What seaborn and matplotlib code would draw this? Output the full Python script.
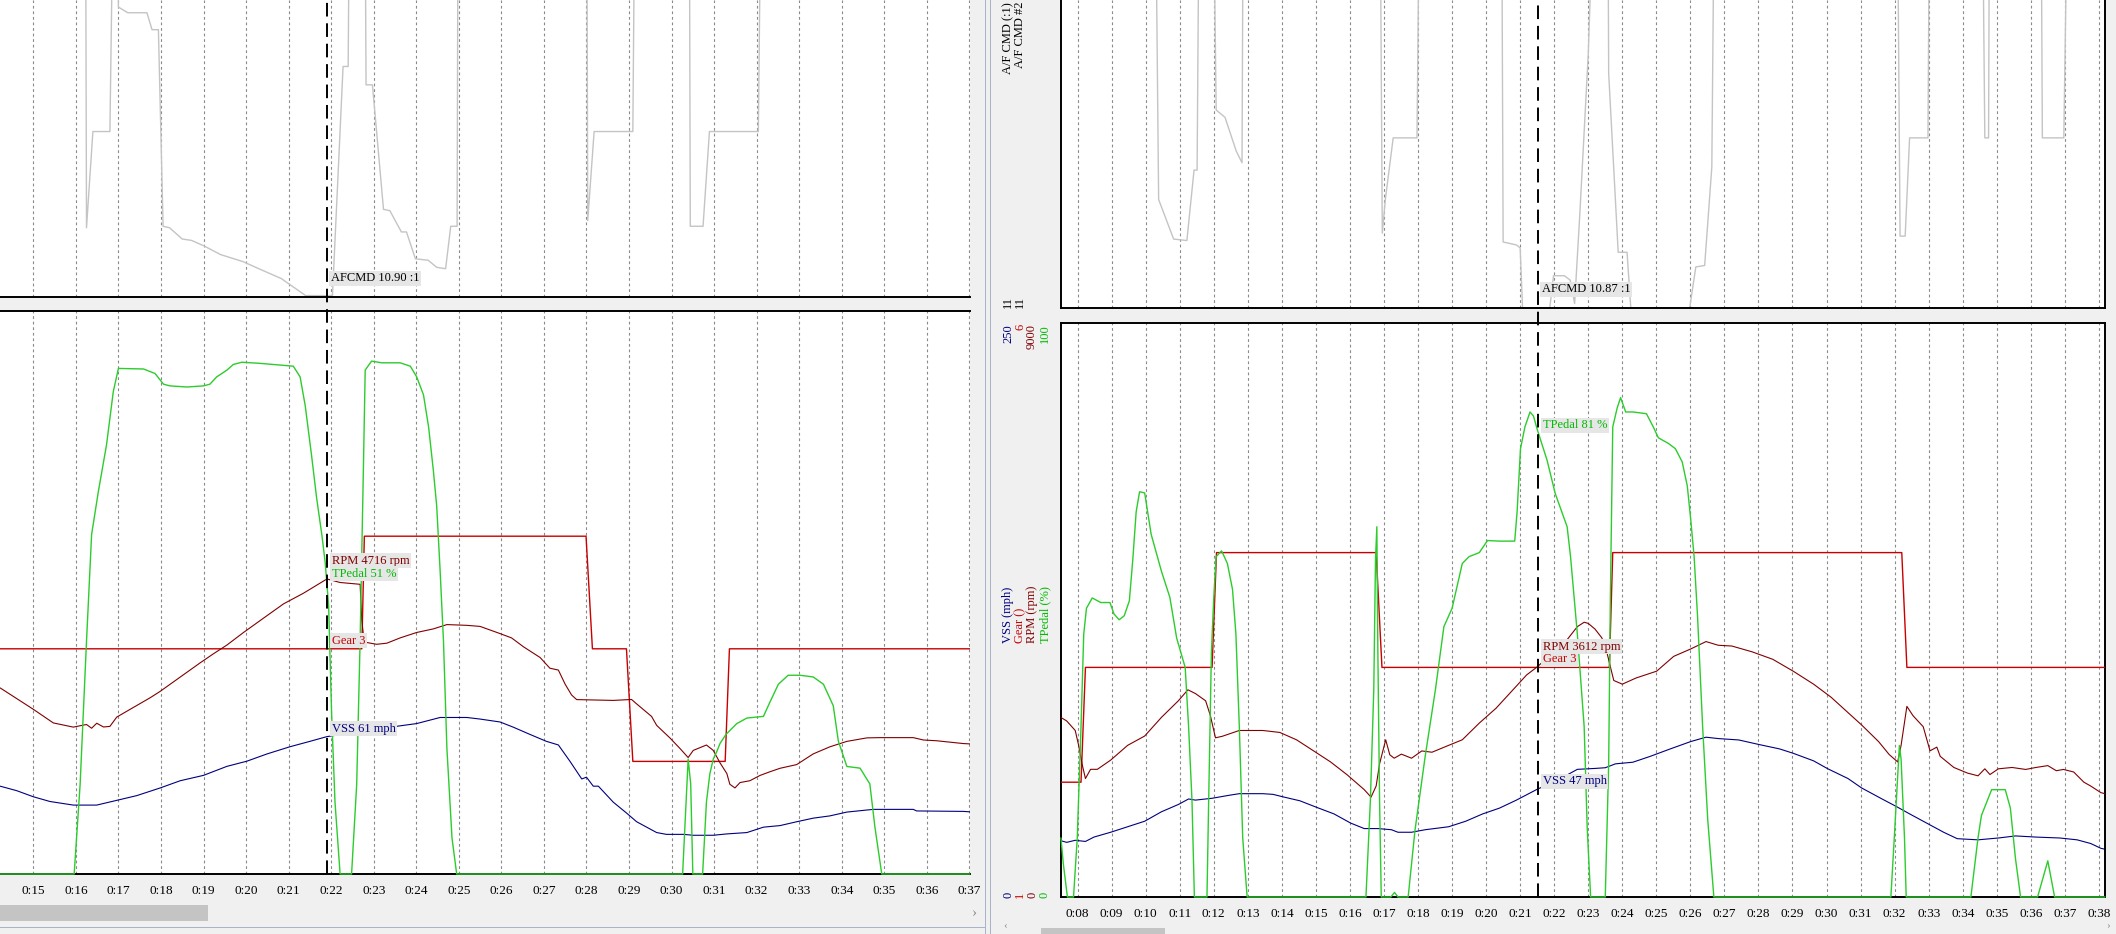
"""Data-log viewer screenshot: A/F command + VSS/Gear/RPM/TPedal, two panels."""

import matplotlib
matplotlib.use("Agg")
import matplotlib.pyplot as plt
import matplotlib.patches as patches
import matplotlib.transforms as mtransforms
from matplotlib.lines import Line2D
from matplotlib.ticker import MultipleLocator, FuncFormatter
import seaborn as sns

W, H = 2116, 934
BG = "#f0f0f0"
VSS_C = "#000080"
GEAR_C = "#c80000"
RPM_C = "#800000"
TP_C = "#2ccc2c"
AF_C = "#c4c4c4"
SEP_C = "#a8b4c8"

# ---------------- left panel data (time in s) ----------------
L_AF_T = [14.22, 16.22, 16.25, 16.40, 16.80, 16.92, 16.97, 17.00, 17.22, 17.67, 17.79, 17.94,
          18.05, 18.20, 18.50, 18.72, 19.02, 19.40, 19.93, 20.30, 20.83, 21.40, 22.03, 22.28,
          22.40, 22.45, 22.78, 22.82, 22.97, 23.23, 23.38, 23.65, 23.77, 23.98, 24.28, 24.48,
          24.69, 24.81, 24.96, 24.99, 28.00, 28.03, 28.18, 29.09, 29.16, 30.41, 30.44, 30.74,
          30.89, 32.04, 32.13, 37.02]
L_AF_V = [14.7, 14.7, 11.39, 12.07, 12.07, 14.7, 14.7, 12.95, 12.91, 12.91, 12.79, 12.79,
          11.40, 11.39, 11.31, 11.30, 11.26, 11.20, 11.15, 11.10, 11.03, 10.91, 10.91, 12.53,
          12.53, 14.7, 14.7, 12.40, 12.40, 11.52, 11.51, 11.36, 11.36, 11.17, 11.16, 11.11,
          11.10, 11.40, 11.40, 14.7, 14.7, 11.44, 12.07, 12.07, 14.7, 14.7, 11.40, 11.40,
          12.07, 12.07, 14.7, 14.7]

L_TP_T = [14.22, 15.96, 16.10, 16.25, 16.37, 16.53, 16.72, 16.88, 17.00, 17.59, 17.86, 18.06,
          18.21, 18.61, 19.00, 19.15, 19.31, 19.55, 19.70, 19.90, 20.33, 21.11, 21.27, 21.39,
          21.54, 21.66, 21.78, 21.86, 21.94, 22.01, 22.09, 22.21, 22.48, 22.60, 22.68, 22.76,
          22.80, 22.95, 23.19, 23.62, 23.86, 24.01, 24.17, 24.29, 24.40, 24.48, 24.56, 24.64,
          24.72, 24.84, 24.95, 30.26, 30.39, 30.45, 30.50, 30.73, 30.82, 30.90, 30.98, 31.06,
          31.14, 31.28, 31.53, 31.77, 32.16, 32.31, 32.51, 32.74, 33.02, 33.33, 33.57, 33.80,
          33.92, 34.12, 34.43, 34.66, 34.78, 34.94, 37.01]
L_TP_V = [0, 0, 15.9, 41.3, 60.3, 68.0, 76.2, 85.7, 89.8, 89.7, 88.9, 87.0,
          86.7, 86.5, 86.7, 87.0, 88.3, 89.5, 90.5, 90.9, 90.7, 90.2, 88.3, 83.2,
          74.3, 66.7, 60.3, 55.3, 47.7, 28.6, 12.8, 0, 0, 15.9, 41.3, 73.0,
          89.5, 91.1, 90.8, 90.8, 90.2, 88.3, 85.1, 79.4, 71.8, 65.4, 54.0, 41.3,
          22.3, 6.4, 0, 0, 20.4, 16.0, 0, 0, 12.8, 17.8, 20.4, 21.7,
          23.2, 24.8, 26.7, 27.7, 28.0, 30.5, 33.7, 35.3, 35.3, 35.0, 33.7, 29.9,
          23.6, 19.1, 18.8, 16.0, 8.3, 0, 0]

L_GEAR_T = [14.22, 22.72, 22.78, 27.99, 28.14, 28.94, 29.09, 31.26, 31.36, 37.01]
L_GEAR_V = [3, 3, 4, 4, 3, 3, 2, 2, 3, 3]

L_RPM_T = [14.22, 14.61, 15.00, 15.47, 15.94, 16.10, 16.25, 16.37, 16.49, 16.65, 16.80, 16.96,
           17.35, 17.74, 17.98, 18.45, 18.92, 19.23, 19.55, 19.94, 20.41, 20.88, 21.35, 21.90,
           22.21, 22.68, 22.72, 22.77, 22.84, 23.07, 23.31, 23.62, 24.01, 24.40, 24.72, 25.19,
           25.50, 25.97, 26.24, 26.52, 26.91, 27.14, 27.34, 27.50, 27.65, 27.77, 28.63, 29.06,
           29.18, 29.53, 29.65, 29.96, 30.20, 30.39, 30.51, 30.82, 30.98, 31.14, 31.30, 31.37,
           31.49, 31.61, 31.84, 32.08, 32.31, 32.55, 32.94, 33.33, 33.72, 34.12, 34.59, 34.90,
           35.68, 35.92, 36.23, 36.86, 37.01]
L_RPM_V = [2975, 2804, 2633, 2415, 2348, 2370, 2390, 2330, 2410, 2350, 2360, 2508,
           2662, 2815, 2919, 3147, 3375, 3519, 3660, 3861, 4090, 4318, 4489, 4716,
           4660, 4631, 4060, 3747, 3700, 3672, 3690, 3774, 3861, 3918, 3987, 3975,
           3958, 3843, 3774, 3632, 3461, 3290, 3260, 3033, 2862, 2788, 2775, 2790,
           2719, 2519, 2376, 2176, 2005, 1862, 1976, 2062, 1976, 1776, 1605, 1434,
           1376, 1462, 1491, 1576, 1634, 1690, 1749, 1920, 2033, 2120, 2176, 2180,
           2180, 2142, 2130, 2085, 2080]

L_VSS_T = [14.22, 14.61, 15.00, 15.39, 15.94, 16.49, 16.96, 17.43, 17.98, 18.45, 19.00, 19.55,
           20.02, 20.49, 21.03, 21.50, 21.90, 22.60, 23.39, 24.01, 24.56, 25.19, 25.50, 25.97,
           26.28, 26.67, 27.06, 27.34, 27.61, 27.89, 28.00, 28.16, 28.28, 28.63, 28.94, 29.18,
           29.65, 29.88, 30.28, 30.51, 30.98, 31.30, 31.77, 32.16, 32.55, 32.94, 33.33, 33.72,
           34.12, 34.74, 35.68, 35.76, 36.86, 37.01]
L_VSS_V = [39.0, 37.0, 34.3, 32.2, 30.6, 30.6, 32.7, 34.8, 38.2, 41.4, 43.8, 47.8,
           50.1, 53.3, 56.5, 58.9, 61.0, 63.0, 65.2, 66.8, 69.5, 69.5, 68.8, 67.5,
           65.2, 62.0, 58.9, 57.3, 50.1, 42.2, 43.0, 39.0, 39.0, 31.9, 27.1, 23.2,
           18.4, 17.6, 17.6, 17.2, 17.2, 17.8, 18.4, 20.8, 21.5, 23.2, 24.8, 25.8,
           27.5, 28.7, 28.7, 28.0, 27.8, 27.6]

# ---------------- right panel data ----------------
R_AF_T = [7.51, 10.25, 10.38, 10.82, 11.21, 11.42, 11.51, 11.60, 11.94, 12.07, 12.33, 12.66,
          12.83, 12.88, 16.86, 16.95, 17.04, 17.27, 17.97, 18.08, 20.44, 20.50, 20.89, 21.00,
          21.07, 21.87, 21.98, 22.30, 22.47, 22.60, 22.75, 23.00, 23.30, 23.56, 23.60, 23.88,
          24.14, 24.25, 25.98, 26.16, 26.42, 26.63, 26.74, 32.05, 32.16, 32.31, 32.44, 32.98,
          33.05, 34.54, 34.65, 34.76, 34.80, 36.28, 36.34, 36.97, 37.14, 38.18]
R_AF_V = [14.7, 14.7, 11.61, 11.34, 11.33, 11.81, 11.81, 14.7, 14.7, 12.22, 12.17, 11.94,
          11.86, 14.7, 14.7, 11.38, 11.61, 12.03, 12.03, 14.7, 14.7, 11.32, 11.30, 11.28,
          10.87, 10.87, 11.09, 11.09, 11.06, 10.90, 11.50, 12.60, 14.7, 14.7, 12.47, 11.25,
          11.25, 10.87, 10.87, 11.15, 11.16, 11.83, 14.7, 14.7, 11.36, 11.36, 12.03, 12.03,
          14.7, 14.7, 12.03, 12.03, 14.7, 14.7, 12.03, 12.03, 14.7, 14.7]

R_TP_T = [7.51, 7.58, 7.70, 7.88, 7.99, 8.10, 8.18, 8.26, 8.43, 8.68, 8.95, 9.07,
          9.22, 9.37, 9.52, 9.62, 9.72, 9.82, 9.97, 10.16, 10.46, 10.71, 10.91, 11.16,
          11.26, 11.36, 11.43, 11.80, 11.85, 11.93, 12.00, 12.07, 12.23, 12.40, 12.55, 12.65,
          12.75, 12.85, 12.98, 16.47, 16.60, 16.70, 16.75, 16.79, 16.82, 16.87, 16.92, 17.20,
          17.31, 17.41, 17.71, 17.91, 18.21, 18.51, 18.76, 19.00, 19.30, 19.50, 19.80, 20.04,
          20.39, 20.84, 20.91, 21.01, 21.14, 21.29, 21.39, 21.51, 21.79, 22.03, 22.38, 22.48,
          22.68, 22.88, 22.97, 23.07, 23.50, 23.60, 23.65, 23.72, 23.85, 23.95, 24.10, 24.31,
          24.71, 24.91, 25.06, 25.36, 25.56, 25.76, 25.91, 26.01, 26.11, 26.21, 26.36, 26.51,
          26.69, 31.89, 31.99, 32.14, 32.19, 32.29, 32.34, 34.24, 34.45, 34.55, 34.85, 35.25,
          35.40, 35.55, 35.70, 36.20, 36.50, 36.70, 38.18]
R_TP_V = [10.3, 5.8, 0, 0, 10.3, 29.7, 45.8, 50.3, 52.1, 51.3, 51.3, 49.3,
          48.3, 49.0, 51.6, 58.7, 67.1, 70.6, 70.4, 63.2, 56.8, 52.2, 45.1, 40.0,
          29.7, 16.8, 0, 0, 16.8, 42.6, 52.2, 59.3, 60.3, 58.1, 53.6, 45.8,
          29.7, 10.3, 0, 0, 16.8, 36.1, 58.7, 64.5, 42.6, 16.8, 0, 0,
          0.8, 0, 0, 11.6, 24.5, 36.1, 47.1, 50.3, 58.1, 59.3, 60.0, 62.1,
          62.0, 62.0, 67.1, 78.1, 81.9, 84.5, 83.8, 81.3, 76.1, 70.3, 64.5, 59.3,
          45.8, 29.7, 12.0, 0, 0, 23.2, 52.2, 81.9, 85.2, 87.0, 84.5, 84.5,
          84.2, 81.9, 80.0, 79.0, 78.1, 75.8, 71.6, 65.8, 59.3, 49.0, 29.7, 13.5,
          0, 0, 10.3, 26.4, 24.0, 10.3, 0, 0, 10.3, 14.2, 18.7, 18.7,
          15.5, 6.7, 0, 0, 6.3, 0, 0]

R_GEAR_T = [7.51, 8.10, 8.23, 11.95, 12.08, 16.77, 16.94, 23.62, 23.72, 32.21, 32.36, 38.18]
R_GEAR_V = [2, 2, 3, 3, 4, 4, 3, 3, 4, 4, 3, 3]

R_RPM_T = [7.51, 7.68, 7.93, 8.03, 8.13, 8.23, 8.38, 8.58, 8.97, 9.47, 9.97, 10.46,
           10.96, 11.24, 11.46, 11.76, 11.90, 12.05, 12.25, 12.75, 13.44, 13.94, 14.43, 14.93,
           15.43, 15.92, 16.42, 16.62, 16.77, 16.87, 17.05, 17.17, 17.30, 17.51, 17.81, 18.11,
           18.41, 18.90, 19.30, 19.80, 20.29, 20.79, 21.19, 21.51, 22.38, 22.68, 22.88, 23.00,
           23.20, 23.40, 23.55, 23.65, 23.75, 24.00, 24.41, 25.01, 25.51, 26.01, 26.46, 26.82,
           27.22, 27.82, 28.42, 29.02, 29.62, 30.13, 30.73, 31.03, 31.53, 31.84, 32.09, 32.19,
           32.36, 32.54, 32.84, 33.04, 33.24, 33.34, 33.74, 34.14, 34.45, 34.65, 34.80, 35.05,
           35.45, 35.85, 36.15, 36.50, 36.75, 36.96, 37.26, 37.56, 37.76, 38.06, 38.18]
R_RPM_V = [2815, 2760, 2611, 2378, 2088, 1857, 2002, 2002, 2146, 2378, 2524, 2815,
           3077, 3249, 3190, 3077, 2844, 2496, 2520, 2611, 2611, 2580, 2465, 2292,
           2118, 1915, 1683, 1566, 1741, 2088, 2465, 2230, 2176, 2240, 2176, 2290,
           2270, 2378, 2465, 2727, 2959, 3249, 3482, 3612, 4035, 4239, 4308, 4290,
           4200, 4063, 3830, 3611, 3395, 3337, 3435, 3541, 3773, 3889, 4005, 3947,
           3935, 3843, 3727, 3541, 3337, 3134, 2843, 2698, 2436, 2234, 2118, 2378,
           2989, 2843, 2670, 2292, 2350, 2205, 2031, 1943, 1900, 2010, 1920, 2010,
           2031, 2000, 2031, 2060, 1980, 2000, 1960, 1800, 1740, 1636, 1620]

R_VSS_T = [7.51, 7.68, 7.93, 8.23, 8.48, 8.97, 9.47, 9.97, 10.46, 10.96, 11.26, 11.46,
           11.95, 12.45, 12.75, 13.44, 13.74, 14.04, 14.53, 15.03, 15.53, 16.02, 16.42, 16.82,
           17.22, 17.41, 17.81, 18.21, 18.90, 19.40, 19.90, 20.39, 20.89, 21.51, 22.09, 22.68,
           23.20, 23.50, 23.80, 24.31, 24.81, 25.41, 26.01, 26.46, 26.82, 27.42, 28.02, 28.62,
           29.02, 29.62, 30.03, 30.63, 31.03, 31.63, 32.04, 32.44, 33.04, 33.44, 33.84, 34.45,
           35.05, 35.55, 36.15, 36.85, 37.36, 37.76, 38.06, 38.18]
R_VSS_V = [24.5, 23.8, 24.7, 24.2, 26.1, 28.2, 30.6, 33.0, 37.1, 40.3, 42.7, 42.2,
           43.0, 44.3, 45.0, 45.0, 44.7, 43.6, 41.9, 39.0, 36.2, 32.2, 29.8, 29.8,
           29.3, 28.2, 28.2, 29.3, 30.6, 33.0, 36.2, 38.7, 42.2, 47.0, 50.8, 55.6,
           56.0, 56.3, 58.0, 58.7, 61.2, 64.5, 67.7, 69.6, 69.0, 68.4, 66.4, 64.5,
           62.6, 59.3, 55.9, 51.6, 47.5, 42.7, 39.5, 36.2, 31.4, 28.2, 25.4, 24.9,
           25.7, 26.6, 26.1, 25.7, 24.9, 23.3, 21.2, 20.8]

# cursor readouts: (channel, label, value, pixel lift of the label)
L_READ = [("rpm", "RPM 4716 rpm", 4716, 18), ("tp", "TPedal 51 %", 51, 13),
          ("gear", "Gear 3", 3, 8), ("vss", "VSS 61 mph", 61, 8)]
R_READ = [("tp", "TPedal 81 %", 81, 7), ("rpm", "RPM 3612 rpm", 3612, 20),
          ("gear", "Gear 3", 3, 8), ("vss", "VSS 47 mph", 47, 8)]

sns.set_style("white")
plt.rcParams["font.family"] = ["Liberation Serif", "DejaVu Serif"]

fig = plt.figure(figsize=(W / 100, H / 100), dpi=100, facecolor=BG)


def rect(x0, y0, x1, y1):
    """pixel box (y down from top) -> figure fraction rect"""
    return [x0 / W, 1 - y1 / H, (x1 - x0) / W, (y1 - y0) / H]


def tfmt(v, pos):
    s = int(round(v))
    return f"{s // 60}:{s % 60:02d}"


def panel(x0, x1, top_y1, bot_y0, bot_y1, xlim, cursor, framed,
          af, af_lim, af_label, sig, reads):
    top = fig.add_axes(rect(x0, 0, x1, top_y1))
    bot = fig.add_axes(rect(x0, bot_y0, x1, bot_y1))

    sns.lineplot(x=af[0], y=af[1], ax=top, color=AF_C, linewidth=1.0,
                 estimator=None, sort=False, legend=False)
    top.set_ylim(*af_lim)

    chans = {"vss": bot}
    for key in ("gear", "rpm", "tp"):
        tw = bot.twinx()
        tw.yaxis.set_visible(False)
        for s in tw.spines.values():
            s.set_visible(False)
        chans[key] = tw

    styles = {"vss": (VSS_C, 0.8, (0, 250)), "gear": (GEAR_C, 1.0, (1, 6)),
              "rpm": (RPM_C, 0.8, (0, 9000)), "tp": (TP_C, 1.0, (0, 100))}
    for key in ("vss", "gear", "rpm", "tp"):
        color, lw, lim = styles[key]
        t, v = sig[key]
        sns.lineplot(x=t, y=v, ax=chans[key], color=color, linewidth=lw,
                     estimator=None, sort=False, legend=False, clip_on=(key != "tp"))
        chans[key].set_ylim(*lim)
        chans[key].set_xlim(*xlim)

    for ax in (top, bot):
        ax.set_facecolor("white")
        ax.set_xlim(*xlim)
        ax.set_xlabel("")
        ax.set_ylabel("")
        ax.set_yticks([])
        ax.xaxis.set_major_locator(MultipleLocator(1))
        ax.grid(True, axis="x", which="major", color="#8a8a8a",
                linestyle=(0, (2.5, 2.5)), linewidth=0.8)
        for s in ax.spines.values():
            s.set_color("black")
            s.set_linewidth(1.4)
    top.spines["top"].set_visible(False)
    if not framed:
        for side in ("left", "right"):
            top.spines[side].set_visible(False)
            bot.spines[side].set_visible(False)
    top.tick_params(axis="x", length=0, labelbottom=False)
    bot.xaxis.set_minor_locator(MultipleLocator(0.2))
    bot.xaxis.set_major_formatter(FuncFormatter(tfmt))
    bot.tick_params(axis="x", which="major", direction="out", length=5, width=0.8,
                    labelsize=9.5, pad=3, colors="black")
    bot.tick_params(axis="x", which="minor", direction="out", length=3, width=0.8)

    box = dict(boxstyle="square,pad=0.12", fc="#e6e6e6", ec="none")
    front = chans["tp"]
    for key, label, val, lift in reads:
        color = styles[key][0] if key != "tp" else "#00bb00"
        front.annotate(label, xy=(cursor, val), xycoords=chans[key].transData,
                       xytext=(5, lift), textcoords="offset pixels", ha="left",
                       va="center", fontsize=9, color=color, bbox=box, zorder=10)
    top.annotate(af_label, xy=(cursor, af_lim[0]), xytext=(4, 19),
                 textcoords="offset pixels", ha="left", va="center",
                 fontsize=9, color="black", bbox=box, zorder=10)

    # cursor spans both plots and the gap between them
    trans = mtransforms.blended_transform_factory(bot.transData, fig.transFigure)
    fig.add_artist(Line2D([cursor, cursor], [1 - bot_y1 / H, 1], transform=trans,
                          color="black", linewidth=1.4, linestyle=(0, (7, 3.5))))


panel(0, 970, 297, 311, 874, (14.217, 37.014), 21.90, False,
      (L_AF_T, L_AF_V), (10.90, 13.0), "AFCMD 10.90 :1",
      {"vss": (L_VSS_T, L_VSS_V), "gear": (L_GEAR_T, L_GEAR_V),
       "rpm": (L_RPM_T, L_RPM_V), "tp": (L_TP_T, L_TP_V)}, L_READ)

panel(1061, 2105, 308, 323, 897, (7.512, 38.18), 21.51, True,
      (R_AF_T, R_AF_V), (10.87, 12.97), "AFCMD 10.87 :1",
      {"vss": (R_VSS_T, R_VSS_V), "gear": (R_GEAR_T, R_GEAR_V),
       "rpm": (R_RPM_T, R_RPM_V), "tp": (R_TP_T, R_TP_V)}, R_READ)


def ftext(x, y, s, color="black", va="bottom", size=9):
    fig.text(x / W, 1 - y / H, s, rotation=90, ha="center", va=va,
             color=color, fontsize=size)


# channel scale labels of the right panel
ftext(1008, 2, "A/F CMD (:1)", va="top")
ftext(1020, 2, "A/F CMD #2", va="top")
ftext(1008, 308, "11")
ftext(1020, 308, "11")
for x, top_s, name, low, c in [(1008, "250", "VSS (mph)", "0", VSS_C),
                               (1020, "6", "Gear ()", "1", GEAR_C),
                               (1032, "9000", "RPM (rpm)", "0", RPM_C),
                               (1045, "100", "TPedal (%)", "0", "#00bb00")]:
    ftext(x, 324, top_s, c, va="top")
    ftext(x, 643, name, c)
    ftext(x, 898, low, c)


def frect(x0, y0, x1, y1, color):
    fig.add_artist(patches.Rectangle((x0 / W, 1 - y1 / H), (x1 - x0) / W, (y1 - y0) / H,
                                     transform=fig.transFigure, fc=color, ec="none"))


# window chrome: splitter, scrollbars
frect(985, 0, 986, H, SEP_C)
frect(990, 0, 991, H, SEP_C)
frect(0, 927, 985, 928, SEP_C)
frect(0, 905, 208, 921, "#c4c4c4")
frect(1041, 928, 1165, H, "#c4c4c4")
fig.text(975 / W, 1 - 913 / H, "›", ha="center", va="center", color="#909090", fontsize=11)
fig.text(1005 / W, 1 - 926 / H, "‹", ha="center", va="center", color="#909090", fontsize=8)
fig.text(2108 / W, 1 - 926 / H, "›", ha="center", va="center", color="#909090", fontsize=8)

fig.savefig("out.png", dpi=100, facecolor=BG)
